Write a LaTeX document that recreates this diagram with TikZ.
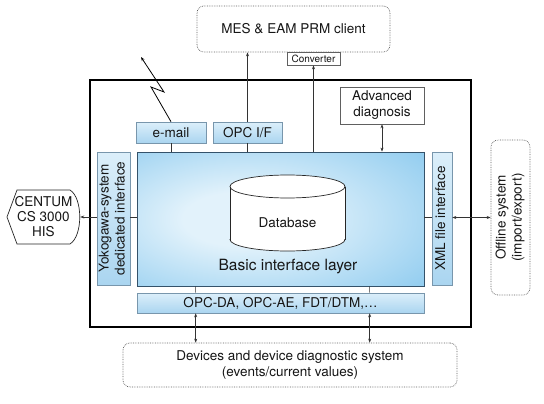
\documentclass[tikz,border=0pt]{standalone}
\usepackage{fontspec}
\usepackage{graphicx}
\setmainfont{TeX Gyre Heros}
\usetikzlibrary{arrows.meta,calc}
\definecolor{lightc}{HTML}{E2F2FB}
\definecolor{bluec}{HTML}{72BEEB}
\definecolor{topc}{HTML}{DCEFFA}
\definecolor{botc}{HTML}{AAD5F0}
\definecolor{boxline}{HTML}{7896AC}
\definecolor{basicline}{HTML}{34526A}
\definecolor{txt}{HTML}{161616}
\definecolor{conncol}{HTML}{333333}
\definecolor{dotcol}{HTML}{606060}
\pgfdeclareradialshading{basicshade}{\pgfpoint{-8bp}{0bp}}{color(0bp)=(lightc); color(10bp)=(lightc); color(50bp)=(bluec); color(80bp)=(bluec)}
\newcommand{\mfont}{\fontsize{13.5}{16}\selectfont}
\newcommand{\rtext}[1]{\rotatebox{90}{\begin{tabular}{@{}c@{}}#1\end{tabular}}}
\begin{document}
\begin{tikzpicture}[x=1pt,y=-1pt,
  every node/.style={text=txt, font=\mfont, inner sep=0pt, align=center},
  bluebox/.style={draw=boxline, line width=0.6pt, top color=topc, bottom color=botc},
  dotbox/.style={draw=dotcol, densely dotted, line width=0.7pt, rounded corners=7pt},
  greybox/.style={draw=gray!75!black, line width=0.6pt, fill=white},
  conn/.style={draw=conncol, line width=0.6pt},
  tip/.style={-{Stealth[length=4pt,width=3pt]}},
  dtip/.style={{Stealth[length=4pt,width=3pt]}-{Stealth[length=4pt,width=3pt]}}]
\useasboundingbox (0,0) rectangle (544,404);
\fill[white] (0,0) rectangle (544,404);

% outer frame
\node[draw=black, line width=2.2pt, minimum width=381pt, minimum height=247pt] (outer) at (280.5,203.5) {};

% external boxes
\node[dotbox, minimum width=193pt, minimum height=46pt] (mes) at (293.5,29) {MES \& EAM PRM client};
\node[greybox, minimum width=53pt, minimum height=13pt, font=\fontsize{10}{12}\selectfont] (conv) at (313.5,58.5) {Converter};
\node[dotbox, minimum width=39pt, minimum height=155pt] (offline) at (510.5,217.5) {\rtext{Offline system\\(import/export)}};
\node[dotbox, minimum width=334pt, minimum height=44pt] (dev) at (290,365) {Devices and device diagnostic system\\(events/current values)};

% CENTUM display shape
\node[minimum width=73pt, minimum height=54pt, font=\fontsize{13.5}{15}\selectfont] (centum) at (43.5,217) {CENTUM\\CS 3000\\HIS};
\draw[line width=0.7pt, draw=black!85] (7,217) -- (17,190) -- (70,190) .. controls (83,198) and (83,236) .. (70,244) -- (17,244) -- cycle;

% inner boxes
\node[bluebox, minimum width=70pt, minimum height=21pt] (email) at (171,132.5) {e-mail};
\node[bluebox, minimum width=69pt, minimum height=21pt] (opcif) at (247.5,132.5) {OPC I/F};
\node[greybox, minimum width=84pt, minimum height=37pt] (adv) at (382,105.5) {Advanced\\diagnosis};
\node[bluebox, minimum width=33pt, minimum height=133pt] (yoko) at (113.5,218.5) {\rtext{Yokogawa-system\\dedicated interface}};
\node[bluebox, minimum width=20pt, minimum height=133pt] (xml) at (442,218.5) {\rtext{XML file interface}};
\node[draw=basicline, line width=0.8pt, shade, shading=basicshade, minimum width=287pt, minimum height=134pt] (basic) at (280.5,219) {};
\node[bluebox, minimum width=287pt, minimum height=20pt] (opcda) at (280.5,303) {OPC-DA, OPC-AE, FDT/DTM,…};

% database cylinder
\fill[white] (230,186.5) rectangle (345,239.5);
\fill[white] (287.5,239.5) ellipse [x radius=57.5, y radius=11.5];
\begin{scope}
  \clip (220,239.5) rectangle (360,260);
  \draw[line width=0.7pt, draw=black!85] (287.5,239.5) ellipse [x radius=57.5, y radius=11.5];
\end{scope}
\draw[line width=0.7pt, draw=black!85] (230,186.5) -- (230,239.5) (345,186.5) -- (345,239.5);
\draw[line width=0.7pt, draw=black!85, fill=white] (287.5,186.5) ellipse [x radius=57.5, y radius=11.5];
\node (db) at (287.5,223) {Database};
\node[font=\fontsize{15.5}{18}\selectfont] (basictxt) at (288,267) {Basic interface layer};

% connectors
\draw[conn,tip] (opcif.north) -- (opcif.north |- mes.south);
\draw[conn,tip] (conv.south |- basic.north) -- (conv.south);
\draw[conn,dtip] (adv.south) -- (adv.south |- basic.north);
\draw[conn] (email.south) -- (email.south |- basic.north);
\draw[conn] (opcif.south) -- (opcif.south |- basic.north);
\draw[conn,tip] (yoko.west |- centum.east) -- (centum.east);
\draw[conn] (yoko.east |- centum.east) -- (basic.west |- centum.east);
\draw[conn] (basic.east |- offline.west) -- (xml.west |- offline.west);
\draw[conn,dtip] (xml.east |- offline.west) -- (offline.west);
\draw[conn] ([xshift=59pt]basic.south west) -- ([xshift=59pt]opcda.north west);
\draw[conn] ([xshift=233pt]basic.south west) -- ([xshift=233pt]opcda.north west);
\draw[conn,dtip] ([xshift=59pt]opcda.south west) -- ([xshift=59pt]opcda.south west |- dev.north);
\draw[conn,dtip] ([xshift=233pt]opcda.south west) -- ([xshift=233pt]opcda.south west |- dev.north);

% wireless zigzag
\coordinate (zigtip) at (141,57);
\draw[line width=0.8pt, draw=black, tip] (email.north) -- (151,87) -- (164,92) -- (zigtip);
\end{tikzpicture}
\end{document}
